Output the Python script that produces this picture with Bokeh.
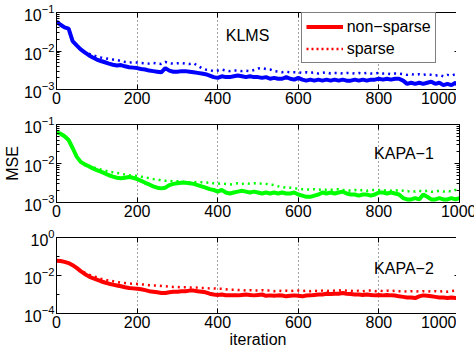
from bokeh.plotting import figure
from bokeh.models import (LogAxis, LinearAxis, Legend, LegendItem, Label, FixedTicker,
                          Range1d, CustomJSTickFormatter)
from bokeh.layouts import column
from bokeh.embed import file_html
from bokeh.resources import INLINE

iterations = list(range(0, 1001, 10))

klms_nonsparse = [
    0.058, 0.048, 0.041, 0.038, 0.018, 0.014, 0.011, 0.0092, 0.0078, 0.0068,
    0.006, 0.0055, 0.0051, 0.0047, 0.0044, 0.0042, 0.0043, 0.004, 0.0038, 0.0037,
    0.0036, 0.0034, 0.0033, 0.0031, 0.003, 0.0029, 0.0028, 0.0036, 0.0031, 0.0029,
    0.0029, 0.003, 0.003, 0.0029, 0.0028, 0.0027, 0.0026, 0.0025, 0.0023, 0.0021,
    0.002, 0.0022, 0.0021, 0.0021, 0.0022, 0.0023, 0.0022, 0.0021, 0.0022, 0.0021,
    0.0021, 0.002, 0.0021, 0.0019, 0.002, 0.0019, 0.0019, 0.0021, 0.0019, 0.0018,
    0.002, 0.0018, 0.0017, 0.0018, 0.0017, 0.0018, 0.0017, 0.0018, 0.0017, 0.0018,
    0.0017, 0.0018, 0.0017, 0.0017, 0.0018, 0.0017, 0.0018, 0.0017, 0.0018, 0.0018,
    0.0019, 0.0018, 0.0019, 0.0018, 0.0019, 0.0019, 0.0017, 0.0014, 0.0015, 0.0014,
    0.0015, 0.0014, 0.0015, 0.0016, 0.0014, 0.0015, 0.0013, 0.0014, 0.0013, 0.0015,
    0.0012]
klms_sparse = [
    0.058, 0.048, 0.041, 0.038, 0.018, 0.014, 0.011, 0.0095, 0.0085, 0.0078,
    0.0072, 0.0068, 0.0065, 0.0062, 0.006, 0.0058, 0.0055, 0.0052, 0.005, 0.0051,
    0.005, 0.0049, 0.0048, 0.0047, 0.0049, 0.0047, 0.0046, 0.0052, 0.0048, 0.0047,
    0.0048, 0.0049, 0.0047, 0.0046, 0.0048, 0.0042, 0.0036, 0.0033, 0.0032, 0.003,
    0.0031, 0.0033, 0.0031, 0.003, 0.0031, 0.0031, 0.003, 0.0031, 0.003, 0.0032,
    0.0035, 0.0036, 0.0034, 0.0033, 0.003, 0.0029, 0.0028, 0.0029, 0.0028, 0.0028,
    0.0028, 0.0027, 0.0028, 0.0027, 0.0028, 0.0026, 0.0027, 0.0028, 0.0026, 0.0027,
    0.0027, 0.0026, 0.0027, 0.0027, 0.0026, 0.0027, 0.0026, 0.0027, 0.0026, 0.0026,
    0.0027, 0.0026, 0.0026, 0.0025, 0.0026, 0.0026, 0.0025, 0.0024, 0.0025, 0.0024,
    0.0025, 0.0024, 0.0025, 0.0024, 0.0023, 0.0024, 0.0022, 0.0024, 0.0023, 0.0025,
    0.0024]
kapa1_nonsparse = [
    0.063, 0.058, 0.05, 0.04, 0.025, 0.015, 0.011, 0.0095, 0.0085, 0.0075,
    0.0068, 0.0062, 0.0056, 0.005, 0.0046, 0.0043, 0.0042, 0.0043, 0.0045, 0.0043,
    0.004, 0.0036, 0.0032, 0.0029, 0.0026, 0.0024, 0.0023, 0.0024, 0.0028, 0.003,
    0.0031, 0.0032, 0.0032, 0.0031, 0.003, 0.0028, 0.0026, 0.0024, 0.0022, 0.0021,
    0.0019, 0.0021, 0.0018, 0.0017, 0.0018, 0.0019, 0.002, 0.0019, 0.0018, 0.0019,
    0.0018, 0.0017, 0.0018, 0.0017, 0.0018, 0.0017, 0.0018, 0.0017, 0.0017, 0.0018,
    0.0016, 0.0015, 0.0014, 0.0014, 0.0015, 0.0016, 0.0018, 0.0017, 0.0018, 0.0017,
    0.0018, 0.0019, 0.0017, 0.0016, 0.0016, 0.0015, 0.0016, 0.0016, 0.0015, 0.0016,
    0.0018, 0.0018, 0.0017, 0.0018, 0.0017, 0.0016, 0.0013, 0.0012, 0.0012, 0.0013,
    0.0012, 0.0016, 0.0014, 0.0012, 0.0012, 0.0013, 0.0012, 0.0012, 0.0013, 0.0012,
    0.0013]
kapa1_sparse = [
    0.063, 0.058, 0.05, 0.04, 0.025, 0.015, 0.011, 0.0098, 0.0088, 0.008,
    0.0075, 0.007, 0.0066, 0.0062, 0.006, 0.0057, 0.0055, 0.0052, 0.005, 0.0049,
    0.0048, 0.0046, 0.0044, 0.0042, 0.004, 0.0039, 0.0037, 0.0036, 0.0036, 0.0035,
    0.0035, 0.0034, 0.0034, 0.0033, 0.0033, 0.0034, 0.0033, 0.0032, 0.0033, 0.0031,
    0.003, 0.0031, 0.003, 0.0029, 0.003, 0.0031, 0.003, 0.0031, 0.003, 0.0031,
    0.003, 0.0031, 0.003, 0.0029, 0.0028, 0.0026, 0.0025, 0.0024, 0.0024, 0.0023,
    0.0023, 0.0022, 0.0022, 0.0021, 0.0022, 0.0021, 0.0022, 0.0021, 0.0021, 0.0022,
    0.0022, 0.0021, 0.0021, 0.002, 0.0021, 0.002, 0.0021, 0.002, 0.0021, 0.0021,
    0.0021, 0.002, 0.0021, 0.002, 0.002, 0.0021, 0.002, 0.0019, 0.002, 0.0019,
    0.002, 0.0019, 0.002, 0.0019, 0.0019, 0.002, 0.0019, 0.002, 0.0019, 0.0021,
    0.002]
kapa2_nonsparse = [
    0.06, 0.058, 0.052, 0.045, 0.035, 0.025, 0.017, 0.012, 0.009, 0.0072,
    0.006, 0.005, 0.0043, 0.0037, 0.0033, 0.003, 0.0027, 0.0024, 0.0022, 0.0021,
    0.002, 0.0019, 0.0017, 0.0015, 0.0014, 0.0013, 0.0012, 0.0012, 0.0013, 0.0014,
    0.0014, 0.0015, 0.0015, 0.0016, 0.0016, 0.0015, 0.0014, 0.0013, 0.0011, 0.001,
    0.00095, 0.001, 0.00092, 0.0009, 0.00092, 0.0009, 0.00095, 0.001, 0.00095, 0.0009,
    0.00095, 0.001, 0.00085, 0.0009, 0.00085, 0.0009, 0.00088, 0.0008, 0.00085, 0.0009,
    0.00085, 0.0008, 0.00088, 0.0009, 0.00095, 0.001, 0.001, 0.0011, 0.00105, 0.0011,
    0.0011, 0.0012, 0.0011, 0.00105, 0.001, 0.001, 0.00095, 0.001, 0.00095, 0.0009,
    0.00095, 0.0009, 0.00095, 0.0009, 0.00088, 0.0008, 0.00075, 0.0007, 0.0007, 0.00065,
    0.0008, 0.0009, 0.00085, 0.0008, 0.00075, 0.0007, 0.0007, 0.00065, 0.0007, 0.00065,
    0.0007]
kapa2_sparse = [
    0.06, 0.058, 0.052, 0.045, 0.035, 0.025, 0.018, 0.014, 0.011, 0.0095,
    0.008, 0.0068, 0.006, 0.0054, 0.005, 0.0045, 0.0042, 0.004, 0.0038, 0.0037,
    0.0036, 0.0034, 0.0033, 0.0031, 0.003, 0.003, 0.0028, 0.0027, 0.0026, 0.0025,
    0.0025, 0.0024, 0.0024, 0.0023, 0.0024, 0.0023, 0.0022, 0.0022, 0.0021, 0.0021,
    0.002, 0.002, 0.0019, 0.0018, 0.0018, 0.0017, 0.0017, 0.0016, 0.0017, 0.0016,
    0.0016, 0.0017, 0.0016, 0.0016, 0.0015, 0.0016, 0.0015, 0.0016, 0.0015, 0.0016,
    0.0016, 0.0015, 0.0016, 0.0015, 0.0016, 0.0015, 0.0016, 0.0016, 0.0015, 0.0016,
    0.0016, 0.0017, 0.0016, 0.0016, 0.0015, 0.0016, 0.0015, 0.0016, 0.0016, 0.0015,
    0.0016, 0.0015, 0.0016, 0.0015, 0.0016, 0.0015, 0.0015, 0.0014, 0.0015, 0.0015,
    0.0014, 0.0015, 0.0015, 0.0014, 0.0015, 0.0014, 0.0015, 0.0014, 0.0015, 0.0016,
    0.0015]

x_ticks = [0, 200, 400, 600, 800, 1000]
grid_ticks = [200, 400, 600, 800]
panel_names = ["KLMS", "KAPA\u22121", "KAPA\u22122"]
legend_labels = ["non\u2212sparse", "sparse"]
y_title = "MSE"
x_title = "iteration"

FONT = "Liberation Sans"
FS = "16px"


def decade_minors(lo, hi):
    out = []
    for e in range(lo, hi):
        for m in range(2, 10):
            out.append(m * 10.0 ** e)
    return out


def make_panel(ns, sp, color, ylo, yhi, yticks, yminor, frame_h, bottom,
               name, name_x, name_y, show_mse, xlabel):
    p = figure(frame_width=403, frame_height=frame_h, y_axis_type="log",
               x_range=Range1d(0, 1000), y_range=Range1d(ylo, yhi),
               output_backend="svg", toolbar_location=None,
               min_border_left=10, min_border_right=17, min_border_top=12,
               min_border_bottom=bottom, background_fill_color="white",
               border_fill_color="white")
    p.outline_line_color = "black"
    p.outline_line_alpha = 1.0
    p.ygrid.visible = False
    p.xgrid.ticker = FixedTicker(ticks=grid_ticks)
    p.xgrid.grid_line_color = "#444444"
    p.xgrid.grid_line_dash = "1 3"
    p.xgrid.grid_line_width = 1

    p.xaxis.ticker = FixedTicker(ticks=x_ticks)
    p.yaxis.ticker = FixedTicker(ticks=yticks, minor_ticks=yminor)
    for ax in (p.xaxis[0], p.yaxis[0]):
        ax.major_label_text_font = FONT
        ax.major_label_text_font_size = FS
        ax.major_label_text_color = "black"
        ax.major_tick_in = 5
        ax.major_tick_out = 0
        ax.minor_tick_in = 3
        ax.minor_tick_out = 0
        ax.axis_line_color = "black"
        ax.major_tick_line_color = "black"
        ax.minor_tick_line_color = "black"
        ax.axis_label_text_font = FONT
        ax.axis_label_text_font_size = FS
        ax.axis_label_text_font_style = "normal"
        ax.axis_label_text_color = "black"
    p.xaxis.major_label_standoff = 2
    p.yaxis.major_label_standoff = 2
    if show_mse:
        p.yaxis.axis_label = y_title
        p.yaxis.axis_label_standoff = 0
    if xlabel:
        p.xaxis.axis_label = xlabel
        p.xaxis.axis_label_standoff = 0

    right = LogAxis(ticker=FixedTicker(ticks=yticks, minor_ticks=yminor),
                    formatter=CustomJSTickFormatter(code="return '';"),
                    major_label_standoff=0,
                    major_tick_in=5, major_tick_out=0, minor_tick_in=3,
                    minor_tick_out=0, axis_line_color="black")
    p.add_layout(right, "right")
    top = LinearAxis(ticker=FixedTicker(ticks=x_ticks),
                     formatter=CustomJSTickFormatter(code="return '';"),
                     major_label_standoff=0,
                     major_tick_in=5, major_tick_out=0, minor_tick_in=0,
                     minor_tick_out=0, axis_line_color="black")
    p.add_layout(top, "above")

    p.line(iterations, ns, color=color, line_width=4)
    p.line(iterations, sp, color=color, line_width=2.5, line_dash="2 4")

    p.add_layout(Label(x=name_x, y=name_y, text=name, text_font=FONT,
                       text_font_size=FS, text_baseline="middle",
                       text_color="black"))
    return p


p1 = make_panel(klms_nonsparse, klms_sparse, "#0000ff", 1e-3, 1e-1,
                [1e-3, 1e-2, 1e-1], decade_minors(-3, -1), 77, 23,
                panel_names[0], 420, 0.025, False, None)
p2 = make_panel(kapa1_nonsparse, kapa1_sparse, "#00ff00", 1e-3, 1e-1,
                [1e-3, 1e-2, 1e-1], decade_minors(-3, -1), 78, 23,
                panel_names[1], 788, 0.018, True, None)
p3 = make_panel(kapa2_nonsparse, kapa2_sparse, "#ff0000", 1e-4, 1.0,
                [1e-4, 1e-2, 1.0], [1e-3, 1e-1], 76, 20,
                panel_names[2], 788, 0.023, False, x_title)

r_ns = p1.line(x=[0, 1], y=[1e-5, 1e-5], color="#ff0000", line_width=4)
r_sp = p1.line(x=[0, 1], y=[1e-5, 1e-5], color="#ff0000", line_width=2.5, line_dash="2 3")
legend = Legend(items=[LegendItem(label=legend_labels[0], renderers=[r_ns]),
                       LegendItem(label=legend_labels[1], renderers=[r_sp])],
                location=(259, 26), label_text_font=FONT,
                label_text_font_size=FS, label_text_color="black",
                glyph_width=37, glyph_height=19, label_height=19,
                spacing=3, padding=4, margin=0, label_standoff=4,
                border_line_color="black", border_line_width=1,
                background_fill_color="white", background_fill_alpha=1.0)
p1.add_layout(legend)

layout = column(p1, p2, p3, spacing=0)
open("out.html", "w").write(file_html(layout, INLINE))
